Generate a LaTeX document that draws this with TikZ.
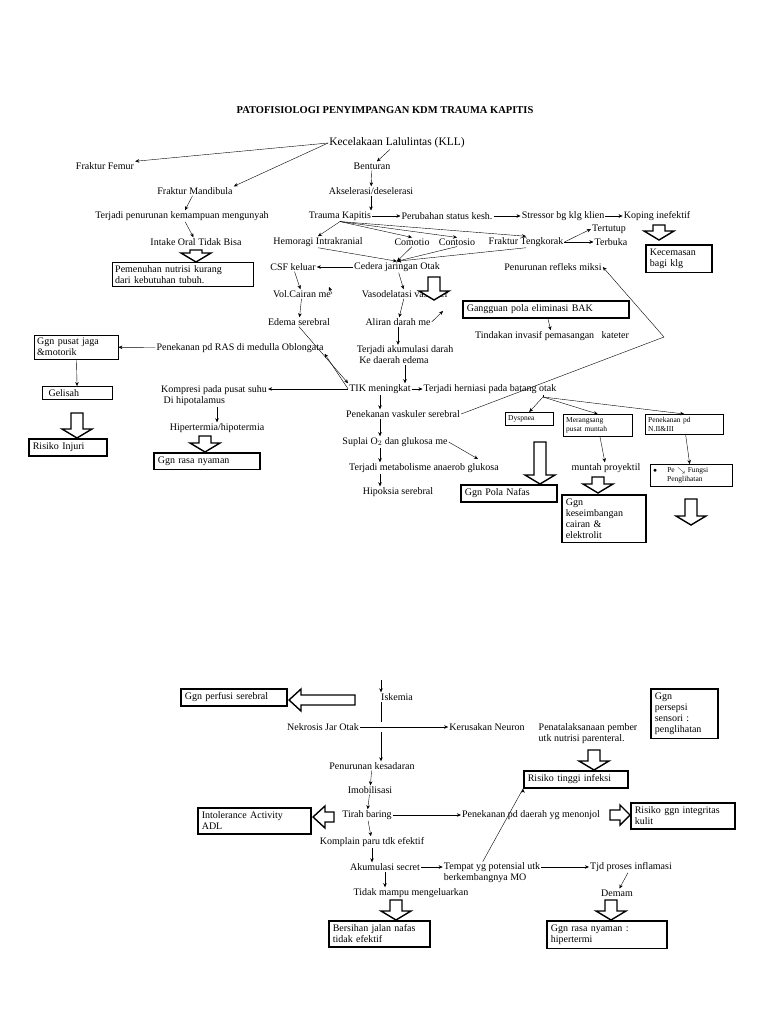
\documentclass[tikz,border=0pt]{standalone}
\usepackage{fontspec}
\setmainfont{Liberation Serif}
\usetikzlibrary{arrows.meta,positioning,calc}
\tikzset{
  arr/.style={-{Stealth[length=4pt,width=3.5pt]}, thin},
  ln/.style={thin},
  lbl/.style={inner sep=1pt, font=\fontsize{10}{11}\selectfont},
  sml/.style={inner sep=1pt, font=\fontsize{7.5}{9}\selectfont, align=left},
  box/.style={draw, thin, inner sep=3pt, align=left, font=\fontsize{10}{11}\selectfont, anchor=north west, text width=#1},
  tbox/.style={draw, line width=1.6pt, inner sep=4pt, align=left, font=\fontsize{10}{11}\selectfont, anchor=north west, text width=#1},
  blk/.style={draw, line width=1.4pt, fill=white, line join=miter}
}
% hollow block arrows: x, from, to
\newcommand{\blkdown}[3]{\draw[blk] ({#1-6},#2) -- ({#1+6},#2) -- ({#1+6},{#3-9}) -- ({#1+15},{#3-9}) -- (#1,#3) -- ({#1-15},{#3-9}) -- ({#1-6},{#3-9}) -- cycle;}
\newcommand{\blkleft}[3]{\draw[blk] (#2,{#1-5}) -- (#2,{#1+5}) -- ({#3+12},{#1+5}) -- ({#3+12},{#1+11}) -- (#3,#1) -- ({#3+12},{#1-11}) -- ({#3+12},{#1-5}) -- cycle;}
\newcommand{\blkright}[3]{\draw[blk] (#2,{#1-5}) -- (#2,{#1+5}) -- ({#3-10},{#1+5}) -- ({#3-10},{#1+10}) -- (#3,#1) -- ({#3-10},{#1-10}) -- ({#3-10},{#1-5}) -- cycle;}

\begin{document}
\begin{tikzpicture}[x=1pt,y=-1pt]
  \useasboundingbox (0,0) rectangle (768,1024);

  % Title
  \node[font=\bfseries\fontsize{10.5}{12}\selectfont] (title) at (385,110) {PATOFISIOLOGI PENYIMPANGAN KDM TRAUMA KAPITIS};

  % Upper part: text nodes
  \node[lbl, font=\fontsize{11.5}{13}\selectfont] (kll) at (397,143) {Kecelakaan Lalulintas (KLL)};
  \node[lbl] (femur) at (105,166) {Fraktur Femur};
  \node[lbl] (bentur) at (372,166) {Benturan};
  \node[lbl] (mandib) at (195,191) {Fraktur Mandibula};
  \node[lbl] (aksel) at (371,191) {Akselerasi/deselerasi};
  \node[lbl] (kunyah) at (182,216) {Terjadi penurunan kemampuan mengunyah};
  \node[lbl] (trauma) at (340,216) {Trauma Kapitis};
  \node[lbl] (ubah) at (447,216) {Perubahan status kesh.};
  \node[lbl] (stres) at (563,216) {Stressor bg klg klien};
  \node[lbl] (koping) at (657,216) {Koping inefektif};
  \node[lbl] (tutup) at (609,229) {Tertutup};
  \node[lbl] (buka) at (611,242) {Terbuka};
  \node[lbl] (intake) at (196,242) {Intake Oral Tidak Bisa};
  \node[lbl] (hemor) at (318,242) {Hemoragi Intrakranial};
  \node[lbl] (comot) at (412,242) {Comotio};
  \node[lbl] (conto) at (457,242) {Contosio};
  \node[lbl] (ftengk) at (526,242) {Fraktur Tengkorak};
  \node[box=135pt] (nutri) at (112,262) {Pemenuhan nutrisi kurang\\dari kebutuhan tubuh.};
  \node[tbox=58pt] (cemas) at (645,244) {Kecemasan\\bagi klg\\[3pt]};
  \node[lbl] (csf) at (293,267) {CSF keluar};
  \node[lbl] (cedera) at (397,267) {Cedera jaringan Otak};
  \node[lbl] (miksi) at (553,267) {Penurunan refleks miksi};
  \node[lbl] (vol) at (302,294) {Vol.Cairan me};
  \node[lbl] (vaso) at (405,294) {Vasodelatasi vaskuler};
  \node[tbox=158pt] (bak) at (462,300) {Gangguan pola eliminasi BAK};
  \node[lbl] (edema) at (299,322) {Edema serebral};
  \node[lbl] (aliran) at (398,322) {Aliran darah me};
  \node[lbl] (tindak) at (552,336) {Tindakan invasif pemasangan\ \ \ kateter};
  \coordinate (volup) at (329,287);
  \coordinate (alirup) at (443,311);

  \node[box=78pt] (pusat) at (34,335) {Ggn pusat jaga\\\&motorik};
  \node[lbl] (ras) at (240,348) {Penekanan pd RAS di medulla Oblongata};
  \node[lbl, align=left] (akum) at (405,355) {Terjadi akumulasi darah\\\ Ke daerah edema};
  \node[box=64pt] (gelis) at (42,386) {\ Gelisah\\[2pt]};
  \node[lbl, align=left] (kompr) at (214,396) {Kompresi pada pusat suhu\\\ Di hipotalamus};
  \node[lbl] (tik) at (380,389) {TIK meningkat};
  \node[lbl] (hernia) at (490,389) {Terjadi herniasi pada batang otak};
  \node[lbl] (hiper) at (217,428) {Hipertermia/hipotermia};
  \node[tbox=70pt] (injuri) at (28,438) {Risiko Injuri\\[12pt]};
  \node[lbl] (tekvas) at (403,414) {Penekanan vaskuler serebral};
  \coordinate (br) at (543,397);
  \coordinate (bend) at (664,337);
  \node[box=42pt, font=\fontsize{7.5}{9}\selectfont] (dysp) at (505,412) {Dyspnea\\[6pt]};
  \node[box=63pt, font=\fontsize{7.5}{9}\selectfont] (rangs) at (563,414) {Merangsang\\pusat muntah\\[2pt]};
  \node[box=72pt, font=\fontsize{7.5}{9}\selectfont] (tekn) at (645,414) {Penekanan pd\\N.II\&III\\[2pt]};
  \node[lbl] (suplai) at (395,442) {Suplai O$_2$ dan glukosa me};
  \coordinate (supdn) at (478,459);
  \node[tbox=98pt] (nyaman) at (153,452) {Ggn rasa nyaman};
  \node[lbl] (metab) at (424,468) {Terjadi metabolisme anaerob glukosa};
  \node[lbl] (muntah) at (606,468) {muntah proyektil};
  \node[box=76pt, font=\fontsize{7.5}{9}\selectfont] (fungsi) at (650,464) {$\bullet$\ \ \ \ Pe $\searrow$ Fungsi\\\hspace*{14pt}Penglihatan};
  \node[lbl] (hipoks) at (398,492) {Hipoksia serebral};
  \node[tbox=88pt] (polnaf) at (460,484) {Ggn Pola Nafas};
  \node[tbox=76pt] (keseim) at (561,494) {Ggn\\keseimbangan\\cairan \&\\elektrolit};

  % Upper part: connectors
  \draw[arr] (kll.west) -- (femur.north east);
  \draw[arr] (kll.west) -- (mandib.north east);
  \draw[arr] (kll) -- (bentur);
  \draw[arr] (bentur) -- (aksel);
  \draw[arr] (aksel) -- (trauma.north -| aksel);
  \draw[arr] (mandib) -- (kunyah);
  \draw[arr] (kunyah) -- (intake);
  \draw[arr] (trauma) -- (ubah);
  \draw[arr] (ubah) -- (stres);
  \draw[arr] (stres) -- (koping);
  \draw[arr] (ftengk.east) -- (tutup.west);
  \draw[arr] (ftengk.east) -- (buka.west);
  \draw[arr] (trauma.south) -- (hemor.north);
  \draw[arr] (trauma.south) -- (comot.north);
  \draw[arr] (trauma.south) -- (conto.north);
  \draw[arr] (trauma.south) -- (ftengk.north);
  \draw[arr] (hemor.south) -- (cedera.north);
  \draw[arr] (comot.south) -- (cedera.north);
  \draw[arr] (conto.south) -- (cedera.north);
  \draw[arr] (ftengk.south) -- (cedera.north);
  \draw[arr] (cedera) -- (csf);
  \draw[arr] (cedera) -- (vaso);
  \draw[arr] (csf) -- (vol);
  \draw[arr] (vol.east) -- (volup);
  \draw[arr] (vol) -- (edema);
  \draw[arr] (vaso) -- (aliran);
  \draw[arr] (aliran.east) -- (alirup);
  \draw[arr] (aliran) -- (akum.north -| aliran);
  \draw[arr] (akum) -- (tik.north -| akum);
  \draw[arr] (edema.south) -- (tik.north west);
  \draw[arr] (tik.west) -- (ras.south east);
  \draw[arr] (ras) -- (pusat);
  \draw[arr] (pusat) -- (gelis);
  \draw[arr] (tik) -- (kompr.east |- tik);
  \draw[arr] (kompr.south -| hiper) -- (hiper);
  \draw[arr] (tik) -- (hernia);
  \draw[arr] (tik) -- (tekvas.north -| tik);
  \draw[arr] (tekvas.south -| tik) -- (suplai.north -| tik);
  \draw[arr] (suplai.south -| tik) -- (metab.north -| tik);
  \draw[arr] (metab.south -| tik) -- (hipoks.north -| tik);
  \draw[arr] (suplai.east) -- (supdn);
  \draw[ln] (tekvas.east) -- (bend);
  \draw[arr] (bend) -- (miksi.east);
  \draw[arr] (bak) -- (tindak);
  \draw[ln] (hernia.south -| br) -- (br);
  \draw[arr] (br) -- (dysp.north);
  \draw[arr] (br) -- (rangs.north);
  \draw[arr] (br) -- (tekn.north);
  \draw[arr] (rangs) -- (muntah);
  \draw[arr] (tekn) -- (fungsi);

  % Upper part: block arrows
  \blkdown{196}{250}{262}
  \blkdown{659}{225}{240}
  \blkdown{434}{277}{300}
  \blkdown{77}{413}{438}
  \blkdown{205}{436}{452}
  \blkdown{540}{442}{484}
  \blkdown{598}{477}{493}
  \blkdown{691}{499}{525}

  % Lower part: text nodes
  \coordinate (top) at (381,680);
  \node[lbl] (iskem) at (397,697) {Iskemia};
  \node[tbox=98pt] (perfus) at (180,688) {Ggn perfusi serebral};
  \node[tbox=59pt] (persep) at (650,688) {Ggn\\persepsi\\sensori :\\penglihatan};
  \node[lbl] (nekro) at (323,727) {Nekrosis Jar Otak};
  \node[lbl] (neuron) at (487,727) {Kerusakan Neuron};
  \node[lbl, align=left] (penata) at (588,734) {Penatalaksanaan pember\\utk nutrisi parenteral.};
  \node[lbl] (kesad) at (372,766) {Penurunan kesadaran};
  \node[tbox=96pt] (infeksi) at (523,770) {Risiko tinggi infeksi};
  \node[lbl] (imobil) at (370,790) {Imobilisasi};
  \node[tbox=105pt] (intol) at (197,807) {Intolerance Activity\\ADL};
  \node[lbl] (tirah) at (367,815) {Tirah baring};
  \node[lbl] (tekdae) at (531,815) {Penekanan pd daerah yg menonjol};
  \node[tbox=96pt] (kulit) at (630,802) {Risiko ggn integritas\\kulit};
  \node[lbl] (kompl) at (372,842) {Komplain paru tdk efektif};
  \node[lbl] (sekret) at (385,867) {Akumulasi secret};
  \node[lbl, align=left] (tempat) at (492,873) {Tempat yg potensial utk\\berkembangnya MO};
  \node[lbl] (inflam) at (631,867) {Tjd proses inflamasi};
  \node[lbl] (mampu) at (411,893) {Tidak mampu mengeluarkan};
  \node[lbl] (demam) at (617,893) {Demam};
  \node[tbox=93pt] (bersih) at (328,920) {Bersihan jalan nafas\\tidak efektif};
  \node[tbox=112pt] (rasa) at (546,920) {Ggn rasa nyaman :\\hipertermi};

  % Lower part: connectors
  \draw[arr] (top) -- (iskem.north -| top);
  \draw[ln] (iskem.south -| top) -- (nekro.north -| top);
  \draw[arr] (nekro) -- (neuron);
  \draw[arr] (nekro.south -| top) -- (kesad.north -| top);
  \draw[arr] (kesad) -- (imobil);
  \draw[arr] (imobil) -- (tirah);
  \draw[arr] (tirah) -- (tekdae);
  \draw[arr] (tirah) -- (kompl);
  \draw[arr] (kompl) -- (sekret.north -| kompl);
  \draw[arr] (sekret) -- (tempat.west |- sekret);
  \draw[arr] (tempat.east |- inflam) -- (inflam);
  \draw[arr] (inflam) -- (demam);
  \draw[arr] (sekret) -- (mampu.north -| sekret);
  \draw[arr] (tempat.north west) ++(40,0) -- (infeksi.south west) ++(0,0);

  % Lower part: block arrows
  \blkleft{700}{355}{289}
  \blkdown{594}{750}{770}
  \blkleft{817}{334}{313}
  \blkright{815}{610}{630}
  \blkdown{396}{900}{920}
  \blkdown{611}{900}{920}
\end{tikzpicture}
\end{document}
